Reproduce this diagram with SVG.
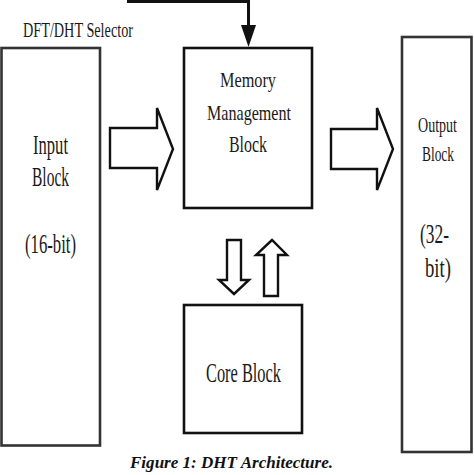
<svg xmlns="http://www.w3.org/2000/svg" width="474" height="475" viewBox="0 0 474 475">
<style>
.box{fill:#fff;stroke:#111;stroke-width:2.6}
.blk{fill:#fff;stroke:#111;stroke-width:2.4;stroke-linejoin:miter}
.t{font-family:"Liberation Serif","Times New Roman",serif;fill:#1a1a1a;text-anchor:middle;lengthAdjust:spacingAndGlyphs}
.cap{font-family:"Liberation Serif","Times New Roman",serif;font-weight:bold;font-style:italic;fill:#111;text-anchor:middle}
</style>
<rect width="474" height="475" fill="#fff"/>
<g id="connectors">
  <polyline points="127,1.5 248.5,1.5 248.5,28" fill="none" stroke="#111" stroke-width="3"/>
  <polygon points="241,25 256,25 248.5,47" fill="#111"/>
  <polygon class="blk" points="110,128 157,128 157,108 173,149 157,190 157,168 110,168"/>
  <polygon class="blk" points="331,129 377,129 377,108 393,149 377,190 377,169 331,169"/>
  <polygon class="blk" points="227,240 241,240 241,280 249,280 234,294 219,280 227,280"/>
  <polygon class="blk" points="264,296 278,296 278,255 287,255 272,240 256,255 264,255"/>
</g>
<g id="selector-label">
  <text class="t" x="78" y="37" font-size="21" textLength="110" lengthAdjust="spacingAndGlyphs">DFT/DHT Selector</text>
</g>
<g id="input-block">
  <rect class="box" x="1.5" y="48" width="98.5" height="397.5" style="stroke:#333"/>
  <text class="t" x="50.5" y="154" font-size="28" textLength="35" lengthAdjust="spacingAndGlyphs">Input</text>
  <text class="t" x="50.5" y="186" font-size="27" textLength="37" lengthAdjust="spacingAndGlyphs">Block</text>
  <text class="t" x="50.5" y="253" font-size="27" textLength="51" lengthAdjust="spacingAndGlyphs">(16-bit)</text>
</g>
<g id="memory-block">
  <rect class="box" x="184" y="48" width="128" height="160"/>
  <text class="t" x="248" y="87" font-size="22" textLength="56" lengthAdjust="spacingAndGlyphs">Memory</text>
  <text class="t" x="249" y="120" font-size="22" textLength="84" lengthAdjust="spacingAndGlyphs">Management</text>
  <text class="t" x="248" y="152" font-size="24" textLength="38" lengthAdjust="spacingAndGlyphs">Block</text>
</g>
<g id="output-block">
  <rect class="box" x="402" y="37" width="69.5" height="415" style="stroke:#333"/>
  <text class="t" x="437.5" y="132" font-size="21" textLength="39" lengthAdjust="spacingAndGlyphs">Output</text>
  <text class="t" x="438" y="161" font-size="21" textLength="32" lengthAdjust="spacingAndGlyphs">Block</text>
  <text class="t" x="434.5" y="243" font-size="27" textLength="29" lengthAdjust="spacingAndGlyphs">(32-</text>
  <text class="t" x="438" y="277" font-size="27" textLength="26" lengthAdjust="spacingAndGlyphs">bit)</text>
</g>
<g id="core-block">
  <rect class="box" x="184" y="305" width="118" height="128"/>
  <text class="t" x="243.5" y="382" font-size="27" textLength="75" lengthAdjust="spacingAndGlyphs">Core Block</text>
</g>
<g id="caption">
  <text class="cap" x="231.5" y="468" font-size="17.5" textLength="203" lengthAdjust="spacingAndGlyphs">Figure 1: DHT Architecture.</text>
</g>
</svg>
